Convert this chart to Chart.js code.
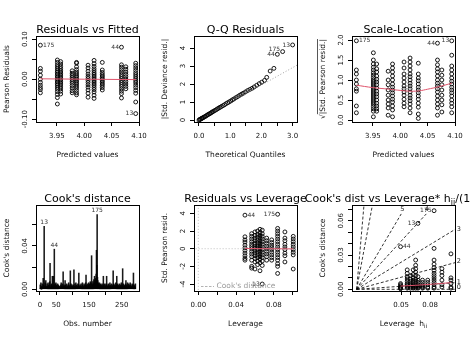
<!DOCTYPE html>
<html>
<head>
<meta charset="utf-8">
<script src="https://cdn.jsdelivr.net/npm/chart.js@4.4.1/dist/chart.umd.min.js"></script>
<style>
html, body { margin: 0; padding: 0; background: #fff; }
#wrap { position: relative; width: 474px; height: 338px; overflow: hidden; background: #fff; }
#wrap canvas { position: absolute; left: 0; top: 0; }
</style>
</head>
<body>
<div id="wrap">
<canvas id="p1" width="474" height="338"></canvas>
<canvas id="p2" width="474" height="338"></canvas>
<canvas id="p3" width="474" height="338"></canvas>
<canvas id="p4" width="474" height="338"></canvas>
<canvas id="p5" width="474" height="338"></canvas>
<canvas id="p6" width="474" height="338"></canvas>
</div>
<script>
const FONT = '"DejaVu Sans", Verdana, sans-serif';
Chart.defaults.font.family = FONT;

// fitted value columns (Residuals vs Fitted, Scale-Location)
const fittedCols = [3.920, 3.951, 3.957, 3.978, 3.986, 4.007, 4.018, 4.033, 4.068, 4.076, 4.094];
const pearsonRes = [
  [0.085, 0.027, 0.02, 0.01, 0.0, -0.008, -0.015, -0.021, -0.026, -0.034],
  [0.048, 0.042, 0.036, 0.031, 0.026, 0.021, 0.017, 0.013, 0.009, 0.005, 0.001, -0.003, -0.007, -0.011, -0.015, -0.02, -0.025, -0.031, -0.038, -0.046, -0.062],
  [0.044, 0.038, 0.032, 0.027, 0.022, 0.018, 0.014, 0.01, 0.006, 0.002, -0.002, -0.006, -0.01, -0.014, -0.019, -0.024, -0.03, -0.037],
  [0.021, 0.015, 0.01, 0.005, 0.0, -0.005, -0.01, -0.016, -0.022, -0.029, -0.034],
  [0.042, 0.04, 0.031, 0.024, 0.018, 0.013, 0.008, 0.004, 0.0, -0.004, -0.008, -0.012, -0.017, -0.022, -0.028, -0.034, -0.039],
  [0.035, 0.028, 0.02, 0.013, 0.007, 0.002, -0.003, -0.008, -0.014, -0.02, -0.027, -0.035, -0.045],
  [0.047, 0.039, 0.032, 0.026, 0.021, 0.016, 0.012, 0.008, 0.004, 0.0, -0.004, -0.008, -0.012, -0.016, -0.021, -0.026, -0.032, -0.04, -0.048],
  [0.042, 0.023, 0.017, 0.012, 0.008, 0.004, 0.0, -0.004, -0.008, -0.012, -0.016, -0.021, -0.027],
  [0.080, 0.036, 0.03, 0.024, 0.018, 0.012, 0.007, 0.002, -0.003, -0.008, -0.013, -0.018, -0.024, -0.03, -0.036, -0.047],
  [0.031, 0.025, 0.018, 0.012, 0.006, 0.0, -0.006, -0.012, -0.018, -0.024],
  [0.04, 0.034, 0.028, 0.022, 0.016, 0.011, 0.006, 0.001, -0.004, -0.009, -0.015, -0.021, -0.028, -0.035, -0.057, -0.086]
];
const sqrtStdRes = [
  [1.98, 1.25, 1.15, 1.0, 0.9, 0.78, 0.72, 0.35, 0.18],
  [1.68, 1.5, 1.4, 1.32, 1.25, 1.18, 1.12, 1.06, 1.0, 0.95, 0.9, 0.85, 0.8, 0.75, 0.7, 0.65, 0.6, 0.55, 0.5, 0.45, 0.4, 0.34, 0.28, 0.22, 0.08],
  [1.4, 1.28, 1.2, 1.1, 1.02, 0.95, 0.88, 0.8, 0.72, 0.65, 0.58, 0.5, 0.42, 0.35, 0.28, 0.22],
  [1.22, 1.0, 0.88, 0.75, 0.62, 0.5, 0.4, 0.3, 0.12],
  [1.4, 1.3, 1.2, 1.1, 1.0, 0.9, 0.82, 0.75, 0.68, 0.6, 0.52, 0.45, 0.35, 0.25, 0.08],
  [1.45, 1.3, 1.15, 1.05, 0.95, 0.85, 0.78, 0.7, 0.62, 0.52, 0.42, 0.33],
  [1.55, 1.45, 1.35, 1.25, 1.15, 1.08, 1.0, 0.92, 0.85, 0.78, 0.7, 0.62, 0.55, 0.48, 0.4, 0.3, 0.18],
  [1.42, 1.15, 1.05, 0.98, 0.9, 0.82, 0.75, 0.68, 0.6, 0.52, 0.42, 0.32, 0.15, 0.04],
  [1.92, 1.5, 1.38, 1.28, 1.2, 1.1, 1.0, 0.92, 0.85, 0.78, 0.7, 0.6, 0.5, 0.4, 0.3, 0.12],
  [1.25, 1.12, 1.0, 0.88, 0.75, 0.62, 0.5, 0.38, 0.2],
  [1.98, 1.62, 1.35, 1.25, 1.15, 1.05, 0.97, 0.9, 0.82, 0.75, 0.68, 0.6, 0.5, 0.42, 0.33, 0.18]
];
const residSmoothX = [3.920, 4.000, 4.094];
const residSmoothY = [0.001, 0.0, -0.001];
const slSmoothX = [3.92, 3.95, 3.98, 4.0, 4.02, 4.035, 4.05, 4.07, 4.094];
const slSmoothY = [0.87, 0.81, 0.77, 0.74, 0.72, 0.73, 0.77, 0.83, 0.92];

// Q-Q
const qqTheo = [0.00,0.02,0.04,0.06,0.08,0.10,0.12,0.14,0.17,0.20,0.23,0.26,0.29,0.32,0.35,0.38,0.41,0.44,0.48,0.52,0.56,0.60,0.64,0.68,0.72,0.77,0.82,0.87,0.92,0.97,1.02,1.07,1.12,1.18,1.24,1.30,1.36,1.42,1.49,1.56,1.63,1.70,1.77,1.85,1.93,2.01,2.10,2.17,2.28,2.40,2.51,2.68,3.00];
const qqAbsRes = [0.00,0.02,0.04,0.06,0.08,0.10,0.12,0.14,0.17,0.20,0.23,0.27,0.30,0.33,0.36,0.39,0.43,0.46,0.50,0.54,0.58,0.63,0.67,0.71,0.75,0.80,0.85,0.91,0.96,1.01,1.06,1.12,1.17,1.24,1.30,1.37,1.43,1.49,1.56,1.64,1.70,1.76,1.84,1.93,2.02,2.10,2.20,2.37,2.72,2.87,3.65,3.80,4.17];
const qqLineX = [-0.16, 3.14];
const qqLineY = [-0.155, 3.046];

// Cook's distance by observation number
const cookDist = [
  .004,.001,.006,.002,.000,.003,.005,.001,.002,.010,.004,.002,.058,.003,.001,.006,.002,.008,.003,.001,
  .002,.005,.001,.003,.006,.002,.004,.001,.003,.007,.024,.002,.001,.004,.003,.005,.002,.012,.003,.001,
  .012,.002,.004,.037,.003,.001,.005,.002,.006,.004,.001,.003,.002,.005,.001,.004,.002,.003,.001,.002,
  .003,.001,.002,.004,.006,.002,.003,.001,.005,.002,.016,.003,.001,.004,.002,.003,.008,.002,.004,.001,
  .002,.005,.001,.003,.002,.004,.001,.006,.002,.003,.001,.004,.017,.002,.005,.003,.001,.004,.002,.003,
  .001,.004,.002,.018,.003,.001,.005,.002,.003,.006,.001,.004,.002,.003,.001,.005,.002,.004,.015,.003,
  .002,.001,.004,.002,.003,.005,.001,.003,.002,.006,.004,.001,.003,.002,.005,.001,.004,.002,.003,.006,
  .013,.002,.004,.001,.003,.005,.002,.004,.006,.003,.002,.005,.004,.007,.003,.006,.002,.031,.005,.004,
  .003,.007,.005,.004,.009,.006,.012,.005,.008,.010,.006,.014,.036,.022,.069,.011,.008,.006,.005,.004,
  .003,.006,.002,.004,.005,.003,.001,.004,.002,.005,.003,.002,.004,.012,.003,.001,.005,.002,.004,.003,
  .002,.005,.001,.012,.004,.002,.003,.001,.005,.002,.004,.003,.001,.006,.002,.004,.003,.001,.005,.002,
  .003,.001,.004,.017,.002,.005,.003,.001,.004,.002,.003,.006,.001,.004,.012,.002,.003,.005,.001,.004,
  .002,.003,.001,.005,.002,.004,.003,.001,.006,.002,.004,.003,.019,.002,.005,.001,.003,.004,.002,.003,
  .001,.005,.008,.002,.003,.004,.001,.006,.002,.003,.005,.001,.004,.002,.003,.006,.002,.004,.001,.003,
  .002,.005,.001,.004,.003,.015,.002,.004,.001,.003,.002,.005
];

// Residuals vs Leverage
const levCols = [0.0494, 0.0565, 0.0600, 0.0628, 0.0653, 0.0677, 0.0724, 0.0777, 0.0840, 0.0917, 0.1005];
const stdPearson = [
  [3.8, 1.35, 1.0, 0.75, 0.4, 0.1, -0.2, -0.5, -0.8, -1.1, -1.3],
  [1.7, 1.4, 1.1, 0.8, 0.5, 0.25, 0.0, -0.3, -0.6, -0.9, -1.3, -2.0, -2.2],
  [1.9, 1.5, 1.2, 0.9, 0.6, 0.3, 0.05, -0.25, -0.5, -0.8, -1.1, -1.5, -2.3],
  [2.0, 1.6, 1.3, 1.0, 0.7, 0.45, 0.2, -0.1, -0.4, -0.7, -1.0, -1.4, -1.8],
  [2.2, 1.8, 1.5, 1.2, 0.9, 0.6, 0.3, 0.0, -0.3, -0.6, -0.9, -1.2, -1.6, -2.5],
  [2.1, 1.7, 1.4, 1.1, 0.8, 0.5, 0.2, -0.1, -0.4, -0.7, -1.0, -1.4, -1.9, -4.0],
  [1.2, 0.9, 0.6, 0.3, 0.0, -0.3, -0.6, -0.9, -1.3],
  [1.0, 0.7, 0.4, 0.15, -0.1, -0.4, -0.7, -1.0, -1.3],
  [3.9, 2.3, 2.0, 1.7, 1.4, 1.1, 0.8, 0.5, 0.2, -0.1, -0.4, -0.7, -1.0, -1.3, -1.7, -2.0, -2.8],
  [1.9, 1.2, 0.9, 0.5, 0.2, -0.1, -0.5, -0.8, -1.5],
  [1.4, 1.1, 0.8, 0.5, 0.2, -0.1, -0.4, -0.7, -2.3]
];
const rvlSmoothX = [0.0494, 0.070, 0.1005];
const rvlSmoothY = [0.03, 0.0, -0.02];
const refHX = [-0.006, 0.106];
const refHY = [0, 0];
const refVX = [0, 0];
const refVY = [-5, 5];

// Cook's distance vs h/(1-h)
const hRatioCols = [0.0520, 0.0599, 0.0638, 0.0670, 0.0699, 0.0726, 0.0780, 0.0842, 0.0917, 0.1010, 0.1117];
const cookByCol = [
  [0.0373, 0.005, 0.004, 0.003, 0.002, 0.0015, 0.001, 0.0005],
  [0.017, 0.014, 0.011, 0.009, 0.007, 0.005, 0.004, 0.003, 0.002, 0.001],
  [0.012, 0.009, 0.007, 0.005, 0.004, 0.003, 0.002, 0.001],
  [0.017, 0.013, 0.01, 0.008, 0.006, 0.004, 0.003, 0.002, 0.001],
  [0.0256, 0.021, 0.018, 0.015, 0.012, 0.009, 0.007, 0.005, 0.003, 0.002, 0.001],
  [0.0577, 0.011, 0.008, 0.006, 0.004, 0.003, 0.002, 0.001],
  [0.008, 0.006, 0.004, 0.003, 0.002, 0.001],
  [0.008, 0.006, 0.004, 0.002, 0.001],
  [0.0688, 0.0358, 0.0256, 0.022, 0.019, 0.0165, 0.014, 0.012, 0.01, 0.008, 0.006, 0.004, 0.002, 0.001],
  [0.018, 0.015, 0.012, 0.008, 0.004, 0.002],
  [0.031, 0.01, 0.008, 0.005, 0.002, 0.001]
];
const cvlSmoothX = [0.052, 0.070, 0.090, 0.1117];
const cvlSmoothY = [0.0028, 0.0035, 0.0045, 0.0058];
const contourEndX = [0.1165, 0.1165, 0.1165, 0.1165, 0.0825, 0.0528, 0.0187, 0.0087];
const contourEndY = [0, 0.0058, 0.0233, 0.0524, 0.066, 0.066, 0.0738, 0.0738];

// ticks and labels
const fitTicks = [3.95, 4.00, 4.05, 4.10];
const fitLabels = ['3.95', '4.00', '4.05', '4.10'];
const resTicks = [-0.10, -0.05, 0, 0.05, 0.10];
const resLabels = ['-0.10', '', '0.00', '', '0.10'];
const qqXTicks = [0, 0.5, 1, 1.5, 2, 2.5, 3];
const qqXLabels = ['0.0', '', '1.0', '', '2.0', '', '3.0'];
const qqYTicks = [0, 1, 2, 3, 4];
const qqYLabels = ['0', '1', '2', '3', '4'];
const slTicks = [0, 0.5, 1, 1.5, 2];
const slLabels = ['0.0', '0.5', '1.0', '1.5', '2.0'];
const obsTicks = [0, 50, 100, 150, 200, 250];
const obsLabels = ['0', '50', '', '150', '', '250'];
const cookTicks = [0, 0.02, 0.04, 0.06];
const cookLabels = ['0.00', '', '0.04', ''];
const levTicks = [0, 0.02, 0.04, 0.06, 0.08, 0.10];
const levLabels = ['0.00', '', '0.04', '', '0.08', ''];
const rvlTicks = [-4, -2, 0, 2, 4];
const rvlLabels = ['-4', '-2', '0', '2', '4'];
const hrTicks = [0.0526, 0.0638, 0.0753, 0.0870, 0.0989, 0.1111];
const hrLabels = ['0.05', '', '', '0.08', '', ''];
const cvlTicks = [0, 0.01, 0.02, 0.03, 0.04, 0.05, 0.06, 0.07];
const cvlLabels = ['0.00', '', '', '0.03', '', '', '0.06', ''];

function colPoints(xs, ys) { return xs.flatMap((x, i) => ys[i].map(y => ({ x, y }))); }
function pairs(xs, ys) { return xs.map((x, i) => ({ x, y: ys[i] })); }

function pts(data) {
  return { data, showLine: false, pointRadius: 1.95, pointHoverRadius: 1.95, pointBorderWidth: 0.9,
    pointBackgroundColor: 'rgba(0,0,0,0)', pointBorderColor: '#000' };
}
function line(data, color, width, dash, tension) {
  return { data, showLine: true, borderColor: color, borderWidth: width, borderDash: dash || [],
    pointRadius: 0, tension: tension || 0, fill: false };
}

function axis(range, ticks) {
  return {
    type: 'linear', min: range[0], max: range[1], offset: false,
    afterBuildTicks: s => { s.ticks = ticks.map(v => ({ value: v })); },
    afterFit: s => { if (s.isHorizontal()) s.height = 4; else s.width = 4; },
    ticks: { display: false, autoSkip: false },
    grid: { display: true, drawOnChartArea: false, drawTicks: true, tickLength: 4, color: '#000', lineWidth: 1, offset: false },
    border: { display: true, color: '#000', width: 1 }
  };
}

function drawParts(ctx, parts, cx, y, size, subSize) {
  if (typeof parts === 'string') parts = [[parts, 0]];
  const fontOf = p => (p[1] === 1 ? subSize : size) + 'px ' + FONT;
  let total = 0;
  const widths = parts.map(p => { ctx.font = fontOf(p); const w = ctx.measureText(p[0]).width; total += w; return w; });
  let x = cx - total / 2;
  ctx.textAlign = 'left';
  ctx.textBaseline = 'alphabetic';
  parts.forEach((p, i) => {
    ctx.font = fontOf(p);
    ctx.fillText(p[0], x, y + (p[1] === 1 ? size * 0.3 : 0));
    if (p[1] === 2) ctx.fillRect(x, y - size * 0.98, widths[i], 0.7);
    x += widths[i];
  });
}

function deco(spec) {
  return {
    id: 'deco',
    afterDraw(chart) {
      const ctx = chart.ctx, a = chart.chartArea;
      const sx = chart.scales.x, sy = chart.scales.y;
      ctx.save();
      ctx.strokeStyle = '#000';
      ctx.lineWidth = 1;
      ctx.strokeRect(Math.round(a.left) + 0.5, Math.round(a.top) + 0.5,
        Math.round(a.right) - Math.round(a.left), Math.round(a.bottom) - Math.round(a.top));
      ctx.fillStyle = '#000';
      drawParts(ctx, spec.title, (a.left + a.right) / 2, a.top - 3.3, 11, 8);
      ctx.fillStyle = '#111';
      ctx.font = '7px ' + FONT;
      ctx.textAlign = 'center';
      ctx.textBaseline = 'alphabetic';
      spec.xTicks.forEach((v, i) => {
        if (spec.xLabels[i]) ctx.fillText(spec.xLabels[i], sx.getPixelForValue(v), a.bottom + 16);
      });
      spec.yTicks.forEach((v, i) => {
        if (!spec.yLabels[i]) return;
        ctx.save();
        ctx.translate(a.left - 9, sy.getPixelForValue(v));
        ctx.rotate(-Math.PI / 2);
        ctx.fillText(spec.yLabels[i], 0, 0);
        ctx.restore();
      });
      drawParts(ctx, spec.xTitle, (a.left + a.right) / 2, a.bottom + 35, 7.5, 5.5);
      ctx.save();
      ctx.translate(a.left - 27.5, (a.top + a.bottom) / 2);
      ctx.rotate(-Math.PI / 2);
      drawParts(ctx, spec.yTitle, 0, 0, 7.5, 5.5);
      ctx.restore();
      (spec.notes || []).forEach(n => {
        const px = sx.getPixelForValue(n.x), py = sy.getPixelForValue(n.y);
        ctx.font = (n.size || 6) + 'px ' + FONT;
        ctx.fillStyle = n.color || '#333';
        ctx.textBaseline = 'middle';
        if (n.side === 'r') { ctx.textAlign = 'left'; ctx.fillText(n.t, px + 2.5, py); }
        else if (n.side === 'l') { ctx.textAlign = 'right'; ctx.fillText(n.t, px - 2.5, py); }
        else if (n.side === 't') { ctx.textAlign = 'center'; ctx.fillText(n.t, px, py - 4); }
        else if (n.side === 'a') { ctx.textAlign = 'left'; ctx.fillText(n.t, px, py); }
        else { ctx.textAlign = 'center'; ctx.fillText(n.t, px, py); }
      });
      if (spec.legend) {
        const ly = a.bottom - 4.5;
        ctx.strokeStyle = '#a0a0a0';
        ctx.lineWidth = 0.8;
        ctx.setLineDash([2.5, 1.5]);
        ctx.beginPath();
        ctx.moveTo(a.left + 7, ly);
        ctx.lineTo(a.left + 20, ly);
        ctx.stroke();
        ctx.setLineDash([]);
        ctx.fillStyle = '#9a9a9a';
        ctx.font = '7.5px ' + FONT;
        ctx.textAlign = 'left';
        ctx.textBaseline = 'middle';
        ctx.fillText(spec.legend, a.left + 22.5, ly);
      }
      ctx.restore();
    }
  };
}

function panel(id, box, xr, yr, datasets, spec, type) {
  return new Chart(document.getElementById(id), {
    type: type || 'scatter',
    data: { datasets },
    options: {
      responsive: false, animation: false, events: [], devicePixelRatio: 1,
      layout: { autoPadding: false, padding: { left: box[0] - 4, right: 474 - box[1], top: box[2], bottom: 338 - box[3] - 4 } },
      plugins: { legend: { display: false }, tooltip: { enabled: false } },
      scales: { x: axis(xr, spec.xTicks), y: axis(yr, spec.yTicks) }
    },
    plugins: [deco(spec)]
  });
}

const RED = '#DF536B';

panel('p1', [36, 139, 36, 122], [3.912, 4.100], [-0.107, 0.108], [
  line(pairs(residSmoothX, residSmoothY), RED, 1),
  pts(colPoints(fittedCols, pearsonRes))
], {
  title: 'Residuals vs Fitted', xTitle: 'Predicted values', yTitle: 'Pearson Residuals',
  xTicks: fitTicks, xLabels: fitLabels, yTicks: resTicks, yLabels: resLabels,
  notes: [
    { x: 3.920, y: 0.085, t: '175', side: 'r' },
    { x: 4.068, y: 0.080, t: '44', side: 'l' },
    { x: 4.094, y: -0.086, t: '13', side: 'l' }
  ]
});

panel('p2', [194, 297, 36, 122], [-0.16, 3.14], [-0.111, 4.667], [
  line(pairs(qqLineX, qqLineY), '#8a8a8a', 0.8, [1, 2]),
  pts(pairs(qqTheo, qqAbsRes))
], {
  title: 'Q-Q Residuals', xTitle: 'Theoretical Quantiles', yTitle: '|Std. Deviance resid.|',
  xTicks: qqXTicks, xLabels: qqXLabels, yTicks: qqYTicks, yLabels: qqYLabels,
  notes: [
    { x: 3.00, y: 4.17, t: '13', side: 'l' },
    { x: 2.68, y: 3.90, t: '175', side: 'l' },
    { x: 2.51, y: 3.65, t: '44', side: 'l' }
  ]
});

panel('p3', [352, 455, 36, 122], [3.912, 4.100], [-0.05, 2.1], [
  line(pairs(slSmoothX, slSmoothY), RED, 1, [], 0.4),
  pts(colPoints(fittedCols, sqrtStdRes))
], {
  title: 'Scale-Location', xTitle: 'Predicted values', yTitle: [['\u221A', 0], ['|Std. Pearson resid.|', 2]],
  xTicks: fitTicks, xLabels: fitLabels, yTicks: slTicks, yLabels: slLabels,
  notes: [
    { x: 3.920, y: 1.98, t: '175', side: 'r' },
    { x: 4.068, y: 1.92, t: '44', side: 'l' },
    { x: 4.094, y: 1.98, t: '13', side: 'l' }
  ]
});

panel('p4', [36, 139, 205, 291], [-12, 303], [-0.0016, 0.0778], [{
  data: cookDist.map((v, i) => ({ x: i + 1, y: v })),
  backgroundColor: 'rgba(0,0,0,0.9)', borderWidth: 0, barThickness: 0.9
}], {
  title: "Cook's distance", xTitle: 'Obs. number', yTitle: "Cook's distance",
  xTicks: obsTicks, xLabels: obsLabels, yTicks: cookTicks, yLabels: cookLabels,
  notes: [
    { x: 13, y: 0.058, t: '13', side: 't' },
    { x: 44, y: 0.037, t: '44', side: 't' },
    { x: 175, y: 0.069, t: '175', side: 't' }
  ]
}, 'bar');

panel('p5', [194, 297, 205, 291], [-0.00455, 0.1045], [-4.79, 4.95], [
  line(pairs(rvlSmoothX, rvlSmoothY), RED, 1),
  line(pairs(refHX, refHY), '#b0b0b0', 0.8, [1, 2]),
  line(pairs(refVX, refVY), '#b0b0b0', 0.8, [1, 2]),
  pts(colPoints(levCols, stdPearson))
], {
  title: 'Residuals vs Leverage', xTitle: 'Leverage', yTitle: 'Std. Pearson resid.',
  xTicks: levTicks, xLabels: levLabels, yTicks: rvlTicks, yLabels: rvlLabels,
  legend: "Cook's distance",
  notes: [
    { x: 0.0494, y: 3.8, t: '44', side: 'r' },
    { x: 0.0840, y: 3.9, t: '175', side: 'l' },
    { x: 0.0677, y: -4.0, t: '13', side: 'l' }
  ]
});

panel('p6', [352, 455, 205, 291], [-0.0055, 0.1165], [-0.0015, 0.0738], [
  line(pairs(cvlSmoothX, cvlSmoothY), RED, 1),
  ...contourEndX.map((x, i) => line([{ x: 0, y: 0 }, { x, y: contourEndY[i] }], '#000', 0.8, [3, 2])),
  pts(colPoints(hRatioCols, cookByCol))
], {
  title: [["Cook's dist vs Leverage* h", 0], ['ii', 1], ['/(1 \u2212 h', 0], ['ii', 1], [')', 0]],
  xTitle: [['Leverage  h', 0], ['ii', 1]], yTitle: "Cook's distance",
  xTicks: hrTicks, xLabels: hrLabels, yTicks: cvlTicks, yLabels: cvlLabels,
  notes: [
    { x: 0.0520, y: 0.0373, t: '44', side: 'r' },
    { x: 0.0726, y: 0.0577, t: '13', side: 'l' },
    { x: 0.0917, y: 0.0688, t: '175', side: 'l' },
    { x: 0.1185, y: 0.0014, t: '0', side: 'a', size: 6.5, color: '#222' },
    { x: 0.1185, y: 0.0061, t: '1', side: 'a', size: 6.5, color: '#222' },
    { x: 0.1185, y: 0.0241, t: '2', side: 'a', size: 6.5, color: '#222' },
    { x: 0.1185, y: 0.0525, t: '3', side: 'a', size: 6.5, color: '#222' },
    { x: 0.0830, y: 0.0700, t: '4', side: 'c', size: 6.5, color: '#222' },
    { x: 0.0540, y: 0.0700, t: '5', side: 'c', size: 6.5, color: '#222' }
  ]
});
</script>
</body>
</html>
